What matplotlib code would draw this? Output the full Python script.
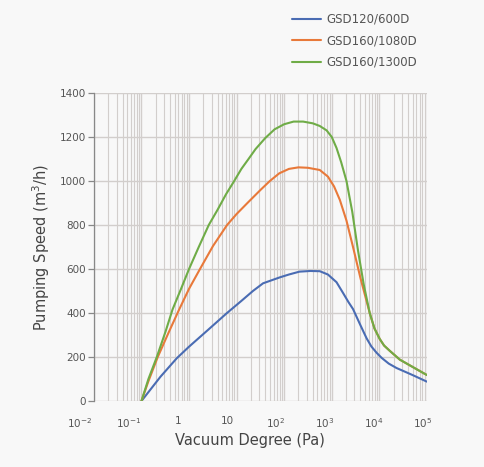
import numpy as np
import matplotlib
matplotlib.use("Agg")
import matplotlib.pyplot as plt
import matplotlib.transforms as mtransforms

# pressures in Pa, speeds in m3/h
p_600 = [0.1, 0.25, 0.55, 1.0, 2.5, 6.2, 12.6, 22, 36, 81, 126, 210, 355, 560, 830,
         1260, 1740, 2240, 2800, 4000, 5400, 6800, 8700, 11200, 15800, 23000, 50000, 100000]
s_600 = [0, 110, 194, 247, 323, 399, 455, 500, 535, 562, 575, 588, 591, 590, 575,
         540, 490, 450, 418, 345, 285, 248, 220, 196, 170, 150, 118, 88]

p_1080 = [0.1, 0.14, 0.22, 0.37, 0.62, 1.0, 1.7, 3.2, 6.3, 10, 17.8, 32, 50, 79, 126, 200,
          316, 560, 830, 1120, 1480, 2040, 2800, 4000, 6300, 7900, 10200, 12600, 16600, 27000, 50000, 100000]
s_1080 = [0, 90, 200, 310, 416, 510, 600, 705, 800, 850, 905, 960, 1000, 1035, 1055, 1062,
          1060, 1050, 1020, 975, 914, 820, 700, 560, 399, 330, 282, 252, 228, 188, 155, 118]

p_1300 = [0.1, 0.14, 0.21, 0.32, 0.45, 0.68, 1.0, 1.6, 2.6, 4.0, 6.0, 8.9, 12.6, 17.8, 25, 40, 63,
          100, 158, 250, 400, 560, 780, 1000, 1260, 1580, 2040, 2700, 3550, 4700, 6300, 7900,
          10200, 12600, 16600, 27000, 50000, 100000]
s_1300 = [0, 100, 200, 315, 416, 510, 600, 700, 800, 870, 940, 1000, 1055, 1100, 1145, 1195, 1235,
          1258, 1270, 1270, 1262, 1250, 1230, 1200, 1150, 1085, 1000, 860, 686, 530, 399, 330,
          282, 252, 228, 188, 155, 118]

labels = ["GSD120/600D", "GSD160/1080D", "GSD160/1300D"]
colors = ["#4a6cb3", "#e8793a", "#6fac47"]

xtick_labels = [r"$10^{-2}$", r"$10^{-1}$", "1", "10", r"$10^{2}$", r"$10^{3}$", r"$10^{4}$", r"$10^{5}$"]
yticks = [0, 200, 400, 600, 800, 1000, 1200, 1400]

bg = "#f8f8f8"
grid_c = "#d2cecc"
text_c = "#555555"

fig = plt.figure(figsize=(4.84, 4.67), dpi=100, facecolor=bg)
ax = fig.add_axes([0.194, 0.1413, 0.688, 0.6596], facecolor=bg)

for p, s, lab, c in zip([p_600, p_1080, p_1300], [s_600, s_1080, s_1300], labels, colors):
    ax.plot(p, s, color=c, lw=1.5, label=lab, solid_joinstyle="round", solid_capstyle="round")

ax.set_xscale("log")
ax.set_xlim(1e-2, 1e5)
ax.set_ylim(0, 1400)
ax.set_xticks([10.0 ** k for k in range(-2, 6)])
ax.set_xticks([m * 10.0 ** k for k in range(-2, 5) for m in range(2, 10)], minor=True)
ax.set_xticklabels(xtick_labels)
ax.set_xticklabels([], minor=True)
ax.set_yticks(yticks)

ax.grid(True, which="major", axis="both", color=grid_c, lw=1.0)
ax.grid(True, which="minor", axis="x", color=grid_c, lw=0.8)
ax.set_axisbelow(True)

for side in ["top", "right", "bottom"]:
    ax.spines[side].set_visible(False)
ax.spines["left"].set_color("#888888")
ax.spines["left"].set_linewidth(0.9)

ax.tick_params(axis="x", which="both", length=0, pad=11, labelsize=7.5, labelcolor=text_c)
ax.tick_params(axis="y", length=4, width=0.9, color="#888888", pad=2, labelsize=7.5, labelcolor=text_c)

# labels in the brochure sit slightly left of the decade lines
for i, t in enumerate(ax.get_xticklabels()):
    dx = (-14 + 1.43 * i) / 100.0
    t.set_transform(t.get_transform() + mtransforms.ScaledTranslation(dx, 0, fig.dpi_scale_trans))

ax.set_xlabel("Vacuum Degree (Pa)", fontsize=10.5, color="#444444")
ax.xaxis.set_label_coords(0.468, -0.105)
ax.set_ylabel("Pumping Speed (m$^3$/h)", fontsize=10.5, color="#444444", labelpad=5)

fig.legend(loc="upper left", bbox_to_anchor=(0.582, 0.995), frameon=False,
           fontsize=8.5, handlelength=2.4, labelspacing=0.72, handletextpad=0.5,
           labelcolor=text_c)

fig.savefig("out.png", dpi=100, facecolor=bg)
